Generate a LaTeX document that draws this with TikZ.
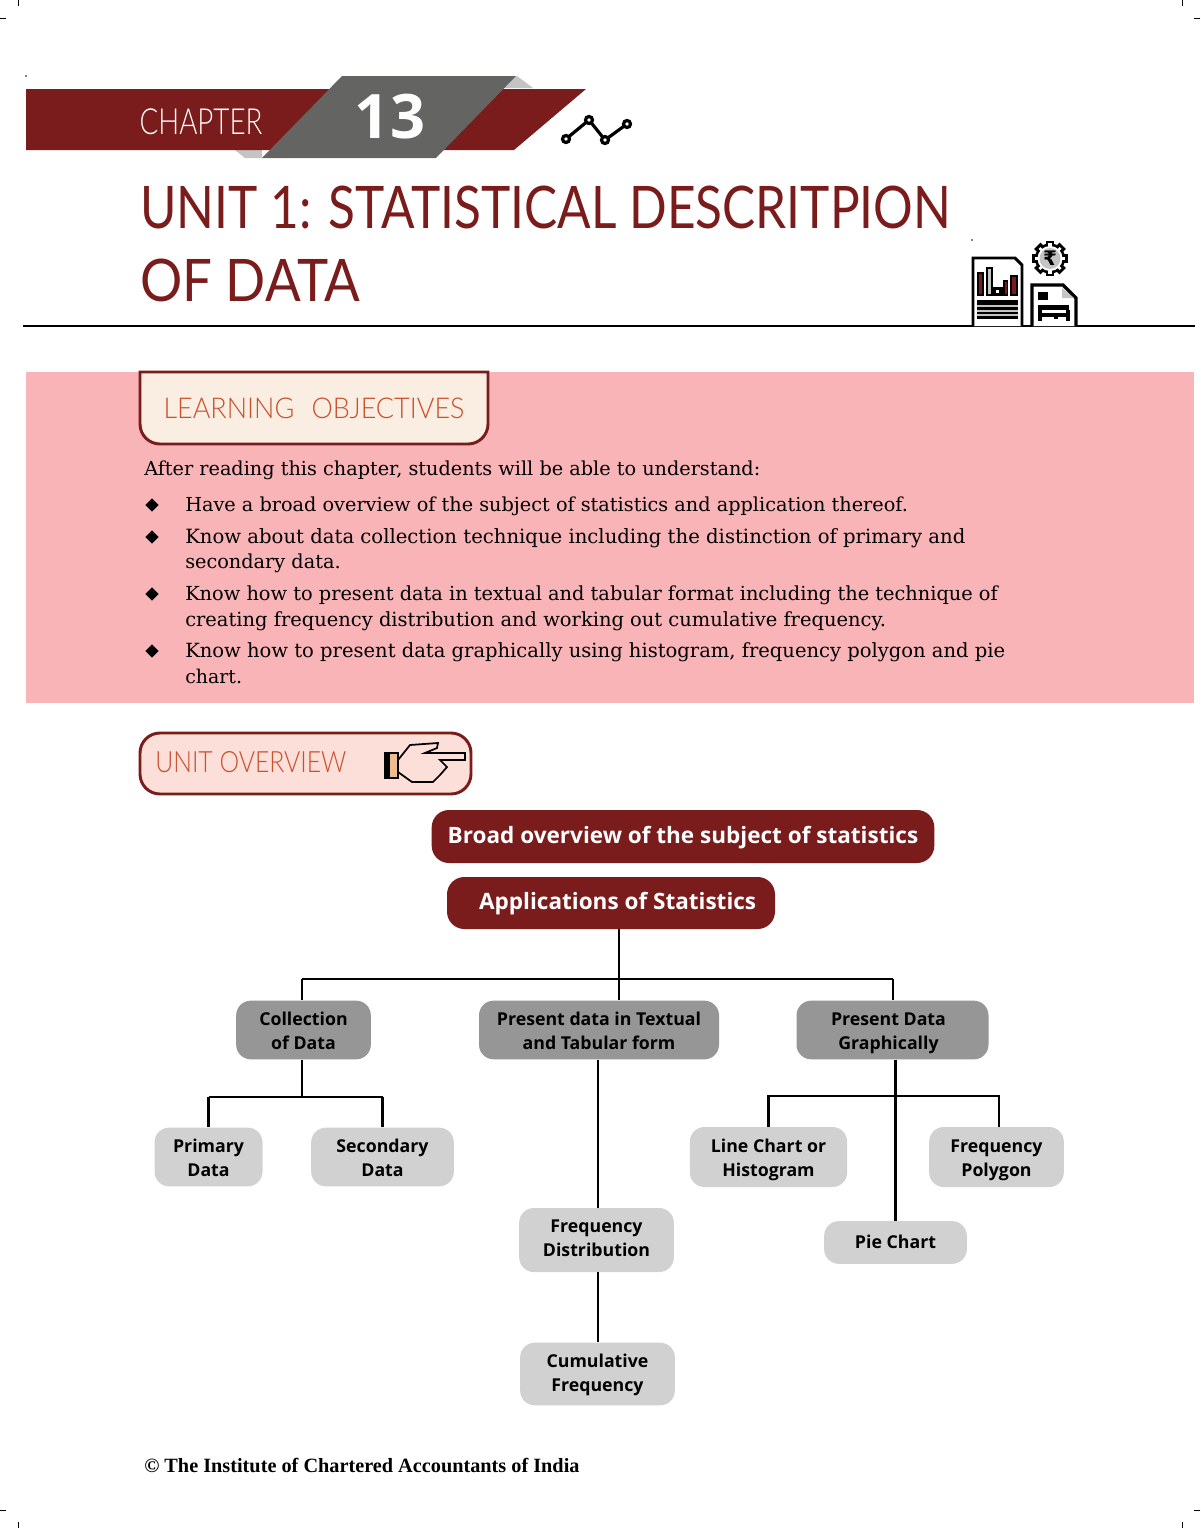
\documentclass[tikz,border=0pt]{standalone}
\usepackage{fontspec}
\setmainfont{DejaVu Serif}
\newfontfamily\titlefont[FakeStretch=0.845]{Lato}
\newfontfamily\titlefonttwo[FakeStretch=0.9]{Lato}
\newfontfamily\chapterfont[FakeStretch=0.77]{Lato Light}
\newfontfamily\objectivefont[FakeStretch=0.94]{Lato Light}
\newfontfamily\overviewfont[FakeStretch=0.845]{Lato Light}
\newfontfamily\boxfont{Open Sans}
\newfontfamily\footfont{Liberation Serif}
\newfontfamily\rupeefont{DejaVu Sans}
\usetikzlibrary{positioning,shapes.geometric}
\definecolor{maroon}{HTML}{7A1C1C}
\definecolor{slategray}{HTML}{646462}
\definecolor{palegray}{HTML}{C4C4C4}
\definecolor{pinkband}{HTML}{F8B4B6}
\definecolor{cream}{HTML}{FAEEE2}
\definecolor{rosebox}{HTML}{FDDFD9}
\definecolor{rust}{HTML}{C8502C}
\definecolor{midgray}{HTML}{969696}
\definecolor{lightbox}{HTML}{D1D1D1}
\definecolor{cufftan}{HTML}{EDBD90}
\tikzset{
  headbox/.style={fill=maroon, text=white, rounded corners=13pt, align=center, font=\boxfont\bfseries\fontsize{16.9}{20}\selectfont, inner sep=0pt, execute at begin node={\rule[-5pt]{0pt}{20pt}}},
  groupbox/.style={fill=midgray, text=black, rounded corners=11pt, align=center, font=\boxfont\bfseries\fontsize{13.3}{18}\selectfont, inner sep=0pt, execute at end node={\rule[-5.4pt]{0pt}{18pt}}},
  leafbox/.style={groupbox, fill=lightbox},
  twolines/.style={execute at begin node={\rule[-5.4pt]{0pt}{39.6pt}}},
  textlift/.style={execute at end node={\rule[-#1]{0pt}{1pt}}},
  link/.style={line width=1.7pt, black},
  thinlink/.style={line width=1pt, black},
  bodyline/.style={anchor=base west, inner sep=0pt, font=\fontsize{#1}{18}\selectfont},
  bodyline/.default=14.65,
  bulletmark/.style={fill=black, minimum size=10pt, inner sep=0pt, diamond},
  cropmark/.style={line width=0.7pt, black},
}
\begin{document}
\begin{tikzpicture}[x=0.75pt, y=-0.75pt]
\useasboundingbox (0,0) rectangle (1200,1528);
\fill[white] (0,0) rectangle (1200,1528);

% crop marks
\foreach \cx/\cy/\dx/\dy in {0/0/1/1, 1200/0/-1/1, 0/1528/1/-1, 1200/1528/-1/-1} {
  \draw[cropmark] (\cx+\dx*18,\cy+\dy*0) -- (\cx+\dx*18,\cy+\dy*6);
  \draw[cropmark] (\cx+\dx*0,\cy+\dy*18) -- (\cx+\dx*6,\cy+\dy*18);
}
\fill (26,76) circle (0.8);
\fill (972,240) circle (0.8);

% chapter banner
\fill[palegray] (235,150) -- (262,150) -- (262,158) -- (245,158) -- cycle;
\fill[palegray] (500,88) -- (517,76) -- (533,88) -- cycle;
\fill[maroon] (26,89) -- (586,89) -- (514,150) -- (26,150) -- cycle;
\fill[slategray] (342,76) -- (516,76) -- (436,158) -- (262,158) -- cycle;
\node[text=white, font=\chapterfont\fontsize{27}{30}\selectfont, inner sep=0pt] (chapterlabel) at (201,122) {CHAPTER};
\node[text=white, font=\boxfont\bfseries\fontsize{46}{50}\selectfont, inner sep=0pt] (chapternum) at (390,117) {13};

% little line graph
\draw[line width=2.4pt] (566,139) -- (589,120) -- (605,140) -- (627,124);
\foreach \px/\py in {566/139, 589/120, 605/140, 627/124}
  \draw[line width=2.4pt, fill=white] (\px,\py) circle (3.5);

% title
\node[anchor=base west, text=maroon, font=\titlefont\fontsize{44}{54}\selectfont, inner sep=0pt] (titleone) at (140,228) {UNIT 1: STATISTICAL DESCRITPION};
\node[anchor=base west, text=maroon, font=\titlefonttwo\fontsize{44}{54}\selectfont, inner sep=0pt] (titletwo) at (140,301) {OF DATA};
\draw[line width=1.6pt] (23,326) -- (1195,326);

% report icon
\draw[line width=2.2pt, fill=white] (973,326) -- (973,258) -- (1015,258) -- (1022,265) -- (1022,326);
\fill[black] (977,272) rectangle (984,296);
\fill[maroon] (979,274) rectangle (982,294);
\fill[black] (986,267) rectangle (993,296);
\fill[palegray] (988,269) rectangle (991,294);
\fill[black] (993,287) rectangle (1003,296);
\fill[white] (996,290) rectangle (999,293);
\fill[black] (1003,280) rectangle (1008,296);
\fill[maroon] (1004.5,282) rectangle (1006.5,294);
\fill[black] (1010,275) rectangle (1018,296);
\fill[maroon] (1012,277) rectangle (1016,294);
\fill[palegray] (977,300) rectangle (1018,319);
\fill[black] (977,300) rectangle (1018,305);
\foreach \ly in {308.5,313,317.5}
  \draw[line width=1.6pt] (977,\ly) -- (1018,\ly);

% disk icon
\draw[line width=2.6pt, fill=white] (1032,326) -- (1032,285) -- (1063,285) -- (1076,298) -- (1076,326);
\fill[palegray] (1062,288) -- (1074,298) -- (1062,298) -- cycle;
\fill[black] (1038,292) rectangle (1048,300);
\fill[black] (1038,305) rectangle (1069,310);
\draw[line width=2.4pt] (1040,321) -- (1040,310);
\draw[line width=2.4pt] (1068,321) -- (1068,310);
\draw[line width=2.4pt] (1040,315) -- (1068,315);
\draw[line width=2.4pt] (1056,315) -- (1056,319);

% gear icon
\draw[line width=2.4pt, fill=white] (1050,258.5) circle (13.5);
\foreach \ang in {0,45,...,315}
  \draw[line width=2.2pt, fill=white, rotate around={\ang:(1050,258.5)}] (1047,242) rectangle (1053,248);
\fill[white] (1050,258.5) circle (12.5);
\fill[palegray] (1050,258.5) circle (10.5);
\node[font=\rupeefont\bfseries\fontsize{15}{15}\selectfont, inner sep=0pt] (rupee) at (1050,258.5) {₹};

% learning objectives band
\fill[pinkband] (26,372) rectangle (1194,703);
\draw[maroon, line width=2.2pt, fill=cream] (140,372) -- (488,372) -- (488,424) arc[start angle=0, end angle=90, radius=20] -- (160,444) arc[start angle=90, end angle=180, radius=20] -- cycle;
\node[text=rust, font=\objectivefont\fontsize{21.5}{24}\selectfont, inner sep=0pt] (objectives) at (314,408) {LEARNING\hspace{0.6em}OBJECTIVES};

\node[bodyline=14.44] (intro) at (144,475) {After reading this chapter, students will be able to understand:};
\node[bodyline=14.45] (itemone) at (185,511) {Have a broad overview of the subject of statistics and application thereof.};
\node[bodyline=14.73] (itemtwoa) at (185,543) {Know about data collection technique including the distinction of primary and};
\node[bodyline=14.46] (itemtwob) at (185,568) {secondary data.};
\node[bodyline=14.51] (itemthreea) at (185,600) {Know how to present data in textual and tabular format including the technique of};
\node[bodyline=14.6] (itemthreeb) at (185,626) {creating frequency distribution and working out cumulative frequency.};
\node[bodyline] (itemfoura) at (185,657) {Know how to present data graphically using histogram, frequency polygon and pie};
\node[bodyline=14.2] (itemfourb) at (185,683) {chart.};
\foreach \by in {505,537,594,651}
  \node[bulletmark] at (152,\by) {};

% unit overview tag
\draw[maroon, line width=2.2pt, fill=rosebox, rounded corners=15pt] (140,733) rectangle (471,794);
\node[anchor=west, text=rust, font=\overviewfont\fontsize{22}{24}\selectfont, inner sep=0pt] (overview) at (155,762) {UNIT OVERVIEW};
\draw[line width=1.3pt, fill=rosebox] (398,760) -- (410,745) -- (438,743) -- (437,748) -- (425,753) -- (465,753) -- (465,760) -- (440,760) -- (447,767) -- (440,775) -- (433,782) -- (412,782) -- (398,772) -- cycle;
\fill[cufftan] (385,753) rectangle (398,778);
\fill[black] (385,753) rectangle (390,778);
\draw[line width=1.3pt] (385,753) rectangle (398,778);

% chart
\node[headbox, minimum width=377pt, minimum height=39.75pt] (broad) at (683,836.5) {Broad overview of the subject of statistics};
\node[headbox, minimum width=246pt, minimum height=39pt] (applications) at (611,903) {\hspace*{10pt}Applications of Statistics};

\node[groupbox, twolines, minimum width=101pt, minimum height=44pt] (collection) at (303.5,1030) {Collection\\of Data};
\node[groupbox, twolines, minimum width=180pt, minimum height=44pt] (textual) at (599,1030) {Present data in Textual\\and Tabular form};
\node[groupbox, twolines, minimum width=144pt, minimum height=44pt] (graphically) at (892.5,1030) {\hspace*{-6pt}Present Data\\\hspace*{-6pt}Graphically};

\node[leafbox, twolines, minimum width=81pt, minimum height=44pt] (primary) at (208.5,1157) {Primary\\Data};
\node[leafbox, twolines, minimum width=107pt, minimum height=44pt] (secondary) at (382.5,1157) {Secondary\\Data};
\node[leafbox, twolines, minimum width=118pt, minimum height=45pt] (linechart) at (768.5,1157) {Line Chart or\\Histogram};
\node[leafbox, twolines, minimum width=101pt, minimum height=45pt] (polygon) at (996.5,1157) {Frequency\\Polygon};
\node[leafbox, twolines, textlift=9.9pt, minimum width=116pt, minimum height=48pt] (distribution) at (596.5,1240) {Frequency\\Distribution};
\node[leafbox, twolines, textlift=8.4pt, minimum width=116pt, minimum height=47pt] (cumulative) at (597.5,1374) {Cumulative\\Frequency};
\node[leafbox, execute at begin node={\rule{0pt}{13.8pt}}, minimum width=107pt, minimum height=32pt] (piechart) at (895.5,1242.5) {Pie Chart};

\coordinate (trunkmid) at (619,979);
\coordinate (trunkleft) at (302,979);
\coordinate (trunkright) at (893,979);
\coordinate (collectionbus) at (302,1097);
\coordinate (textualstem) at (598,1130);
\coordinate (polygonstem) at (999,1096);

\draw[link] (applications.south -| trunkmid) -- (trunkmid);
\draw[link] (trunkleft) -- (trunkright);
\draw[thinlink] (trunkmid) -- (trunkmid |- textual.north);
\draw[link] (trunkleft) -- (trunkleft |- collection.north);
\draw[thinlink] (trunkright) -- (trunkright |- graphically.north);

\draw[thinlink] (collectionbus |- collection.south) -- (collectionbus);
\draw[thinlink] (primary.north |- collectionbus) -- (secondary.north |- collectionbus);
\draw[link] (primary.north |- collectionbus) -- (primary.north);
\draw[link] (secondary.north |- collectionbus) -- (secondary.north);
\draw[link] (textualstem |- textual.south) -- (textualstem |- distribution.north);
\draw[link] (textualstem |- distribution.south) -- (textualstem |- cumulative.north);
\draw[link] (piechart.north |- graphically.south) -- (piechart.north);
\draw[link] (linechart.north) |- (polygonstem) -- (polygonstem |- polygon.north);

\node[anchor=base west, inner sep=0pt, font=\footfont\bfseries\fontsize{15.2}{18}\selectfont] (copyright) at (144,1472) {© The Institute of Chartered Accountants of India};
\end{tikzpicture}
\end{document}
